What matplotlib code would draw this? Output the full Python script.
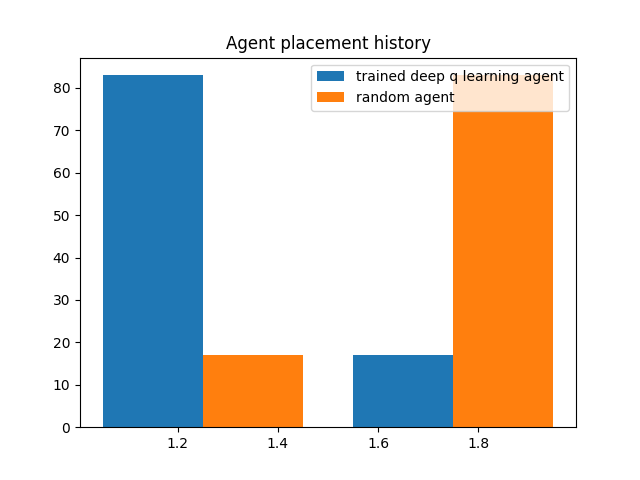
import matplotlib
matplotlib.use("Agg")
import matplotlib.pyplot as plt

# placement positions (bin centres) and how often each agent chose them
POSITIONS = [1.25, 1.75]
BIN_EDGES = [1.0, 1.5, 2.0]
TRAINED_COUNTS = [83, 17]
RANDOM_COUNTS = [17, 83]
LABELS = ["trained deep q learning agent", "random agent"]

fig, ax = plt.subplots(figsize=(6.4, 4.8), dpi=100)
ax.hist(
    [POSITIONS, POSITIONS],
    bins=BIN_EDGES,
    weights=[TRAINED_COUNTS, RANDOM_COUNTS],
    label=LABELS,
)
ax.set_title("Agent placement history")
ax.legend(loc="upper right")
fig.savefig("out.png")
